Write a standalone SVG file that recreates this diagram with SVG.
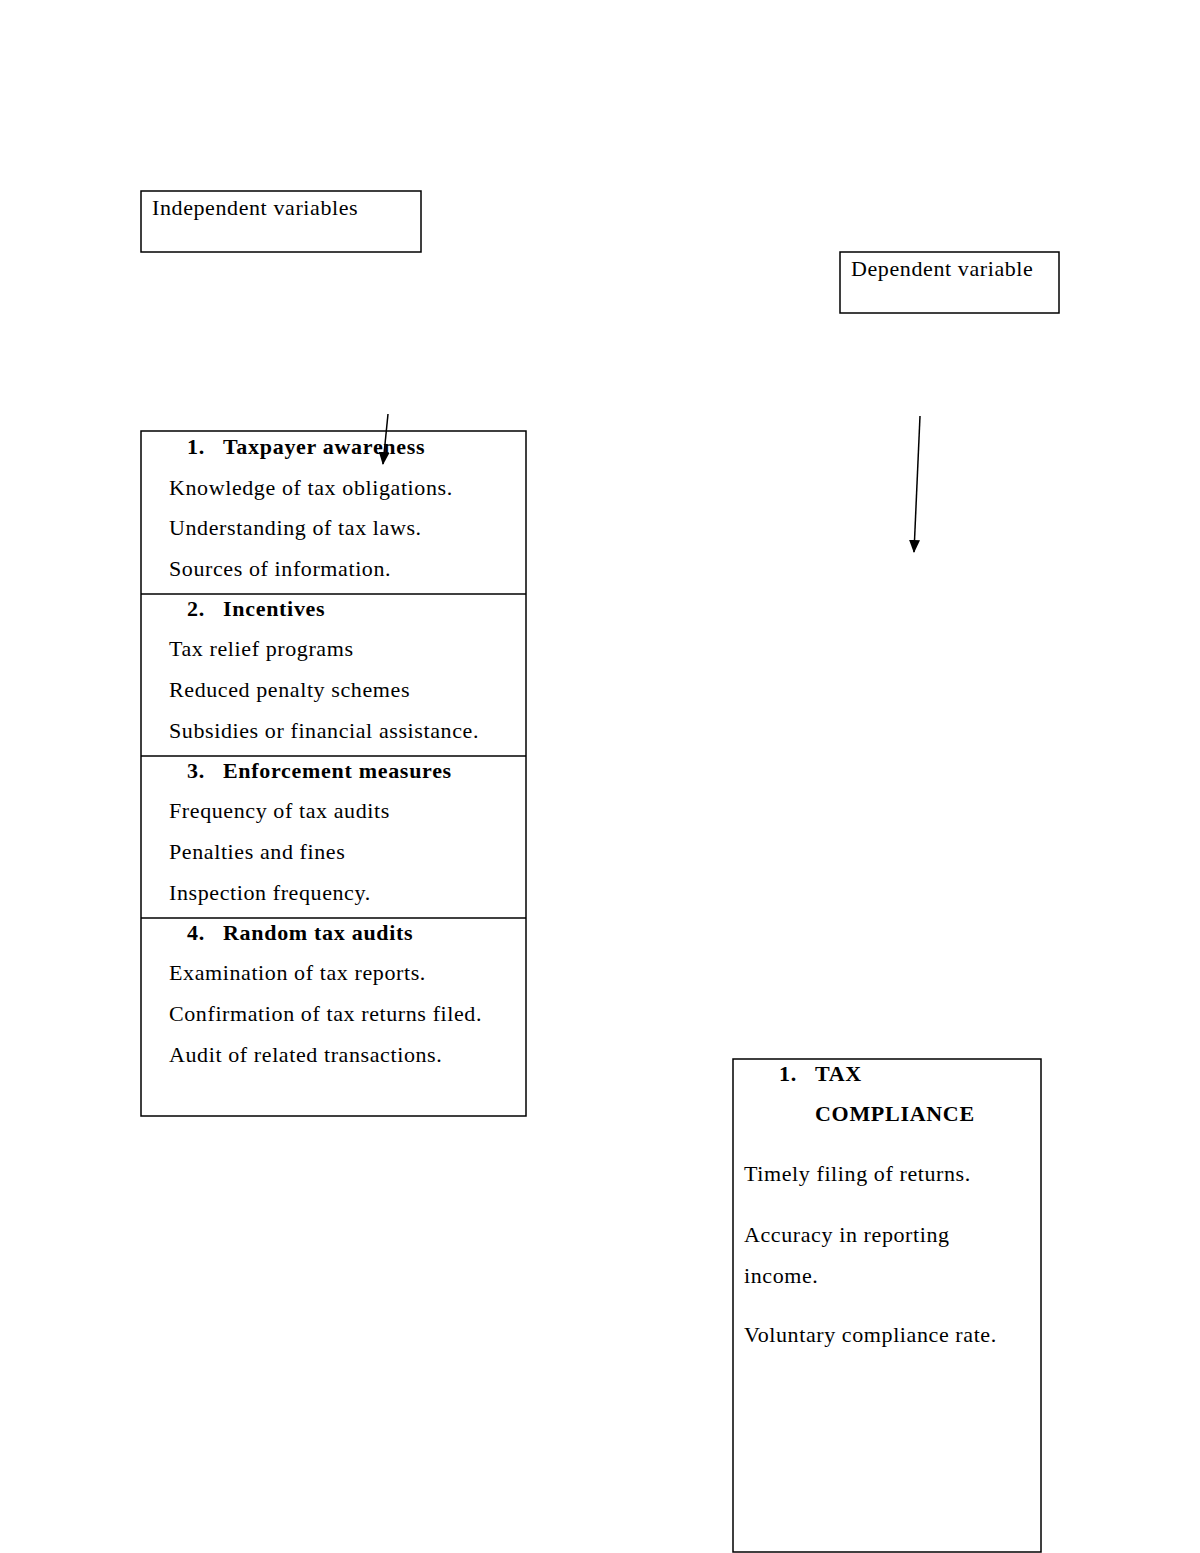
<svg xmlns="http://www.w3.org/2000/svg" width="1200" height="1553" viewBox="0 0 1200 1553">
<style>
.box{fill:none;stroke:#000;stroke-width:1.5}
.t{font-family:"Liberation Serif","Times New Roman",serif;font-size:22px;letter-spacing:0.6px;fill:#000}
.b{font-weight:bold;letter-spacing:0.7px}
.c{stroke:#000;stroke-width:1.5;fill:none}
</style>
<defs>
<marker id="ah" markerWidth="13" markerHeight="11" refX="12" refY="5.5" orient="auto" markerUnits="userSpaceOnUse">
<path d="M0,0 L13,5.5 L0,11 Z" fill="#000"/>
</marker>
</defs>
<rect width="1200" height="1553" fill="#fff"/>
<g id="independent-label">
<rect class="box" x="141" y="191" width="280" height="61"/>
<text class="t" x="152" y="215">Independent variables</text>
</g>
<g id="dependent-label">
<rect class="box" x="840" y="252" width="219" height="61"/>
<text class="t" x="851" y="276">Dependent variable</text>
</g>
<g id="independent-table">
<rect class="box" x="141" y="431" width="385" height="685"/>
<line class="box" x1="141" y1="594" x2="526" y2="594"/>
<line class="box" x1="141" y1="756" x2="526" y2="756"/>
<line class="box" x1="141" y1="918" x2="526" y2="918"/>
<text class="t b" x="187" y="454">1.</text>
<text class="t b" x="223" y="454">Taxpayer awareness</text>
<text class="t" x="169" y="495">Knowledge of tax obligations.</text>
<text class="t" x="169" y="535">Understanding of tax laws.</text>
<text class="t" x="169" y="576">Sources of information.</text>
<text class="t b" x="187" y="616">2.</text>
<text class="t b" x="223" y="616">Incentives</text>
<text class="t" x="169" y="656">Tax relief programs</text>
<text class="t" x="169" y="697">Reduced penalty schemes</text>
<text class="t" x="169" y="738">Subsidies or financial assistance.</text>
<text class="t b" x="187" y="778">3.</text>
<text class="t b" x="223" y="778">Enforcement measures</text>
<text class="t" x="169" y="818">Frequency of tax audits</text>
<text class="t" x="169" y="859">Penalties and fines</text>
<text class="t" x="169" y="900">Inspection frequency.</text>
<text class="t b" x="187" y="940">4.</text>
<text class="t b" x="223" y="940">Random tax audits</text>
<text class="t" x="169" y="980">Examination of tax reports.</text>
<text class="t" x="169" y="1021">Confirmation of tax returns filed.</text>
<text class="t" x="169" y="1062">Audit of related transactions.</text>
</g>
<g id="dependent-table">
<rect class="box" x="733" y="1059" width="308" height="493"/>
<text class="t b" x="779" y="1081">1.</text>
<text class="t b" x="815" y="1081">TAX</text>
<text class="t b" x="815" y="1121">COMPLIANCE</text>
<text class="t" x="744" y="1181">Timely filing of returns.</text>
<text class="t" x="744" y="1242">Accuracy in reporting</text>
<text class="t" x="744" y="1283">income.</text>
<text class="t" x="744" y="1342">Voluntary compliance rate.</text>
</g>
<g id="connectors">
<line class="c" x1="388" y1="414" x2="383" y2="464" marker-end="url(#ah)"/>
<line class="c" x1="920" y1="416" x2="914" y2="552" marker-end="url(#ah)"/>
</g>
</svg>
